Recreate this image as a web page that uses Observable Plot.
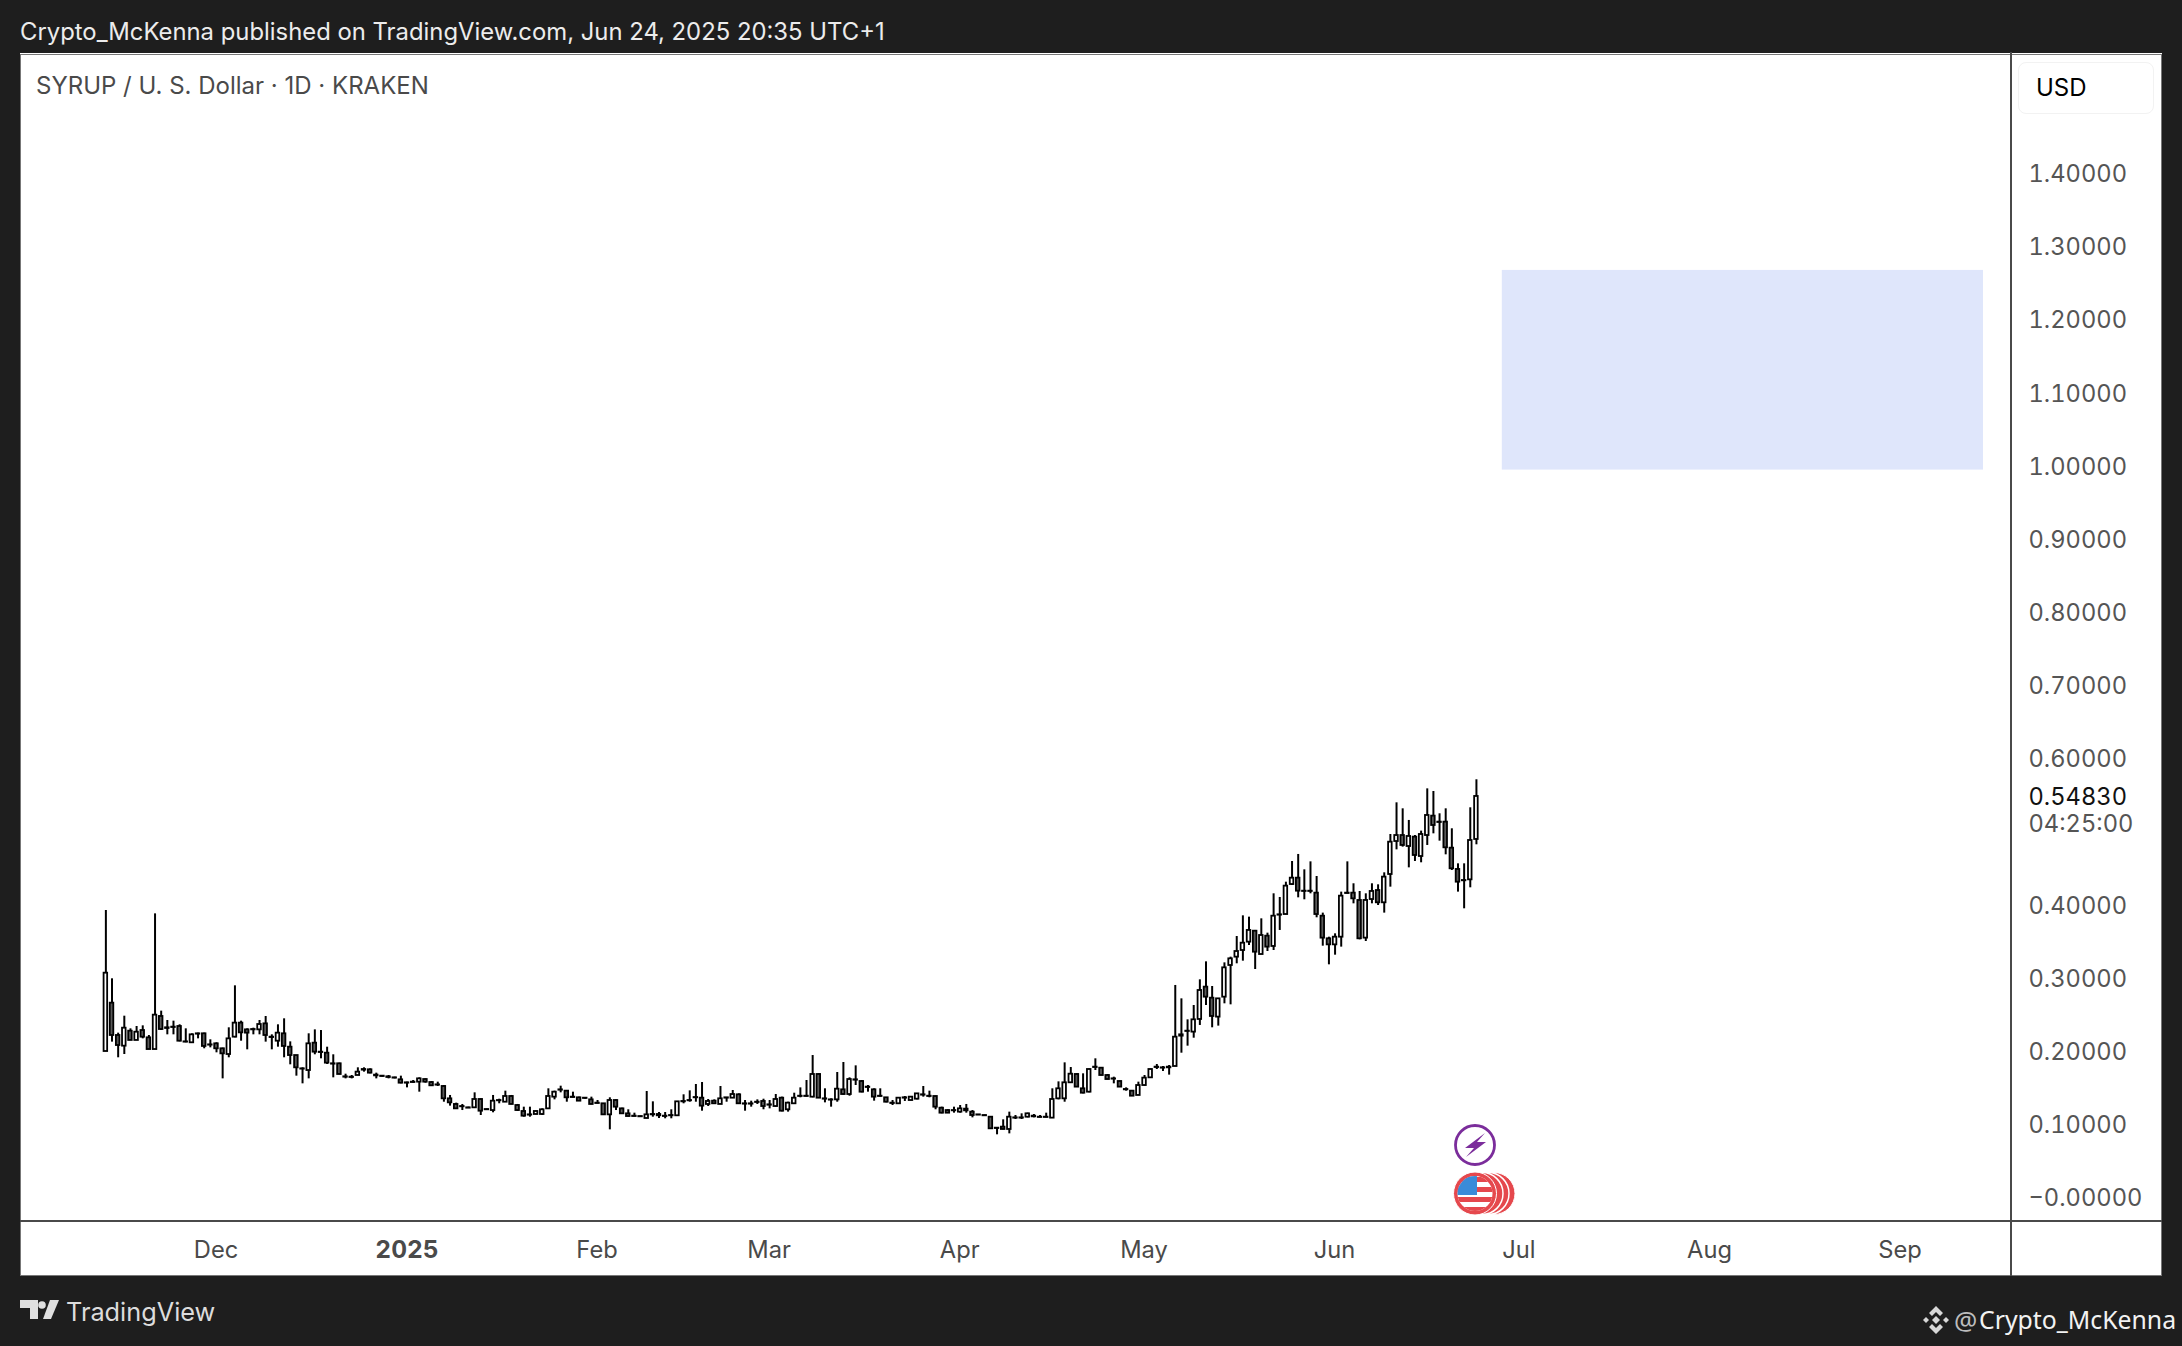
<!DOCTYPE html>
<html>
<head>
<meta charset="utf-8">
<script src="https://cdn.jsdelivr.net/npm/d3@7"></script>
<script src="https://cdn.jsdelivr.net/npm/@observablehq/plot@0.6"></script>
<style>
  html, body { margin: 0; padding: 0; background: #1e1e1e; width: 2182px; height: 1346px; overflow: hidden; font-family: Inter, sans-serif; }
  .abs { position: absolute; white-space: nowrap; line-height: 1; }
  #frame { position: absolute; left: 20px; top: 53px; width: 2142px; height: 1222px; background: #fff; }
  #frame svg { position: absolute; left: 0; top: 0; background: transparent; overflow: visible; }
</style>
</head>
<body>
<div class="abs" style="left:20px;top:19.5px;font-size:23.85px;color:#ececec;">Crypto_McKenna published on TradingView.com, Jun 24, 2025 20:35 UTC+1</div>
<div id="frame"></div>
<div class="abs" style="left:20px;top:54px;width:2140px;height:1220px;border:1px solid #777;pointer-events:none;"></div>
<div class="abs" style="left:2010px;top:52px;width:2px;height:1224px;background:#4a4a4a;"></div>
<div class="abs" style="left:20px;top:1220px;width:2142px;height:2px;background:#4a4a4a;"></div>
<div class="abs" style="left:2018px;top:62px;width:134px;height:50px;border:1px solid #f2f2f2;border-radius:8px;"></div>
<div class="abs" style="left:2036px;top:76px;font-size:24px;color:#000;">USD</div>
<div class="abs" style="left:36px;top:74px;font-size:24px;color:#4a4a4a;">SYRUP / U. S. Dollar · 1D · KRAKEN</div>
<svg class="abs" style="left:1440px;top:1110px;" width="80" height="110" viewBox="1440 1110 80 110">
  <circle cx="1475" cy="1145" r="19.5" fill="#fff" stroke="#7b2d9b" stroke-width="2.8"/>
  <path d="M1485 1133 L1465 1148 L1474 1148 L1466 1157 L1486 1142 L1477 1142 Z" fill="#7b2d9b"/>
  <circle cx="1494" cy="1193.5" r="21" fill="#e5484d" stroke="#fff" stroke-width="1"/>
  <circle cx="1488" cy="1193.5" r="21" fill="#e5484d" stroke="#fff" stroke-width="1.5"/>
  <circle cx="1482" cy="1193.5" r="21" fill="#e5484d" stroke="#fff" stroke-width="1.5"/>
  <clipPath id="flagclip"><circle cx="1475" cy="1193.5" r="17.5"/></clipPath>
  <circle cx="1475" cy="1193.5" r="21.5" fill="#e5484d" stroke="#fff" stroke-width="1"/>
  <g clip-path="url(#flagclip)">
    <rect x="1455" y="1174" width="40" height="40" fill="#fff"/>
    <rect x="1455" y="1177" width="40" height="5" fill="#e5484d"/>
    <rect x="1455" y="1187" width="40" height="5" fill="#e5484d"/>
    <rect x="1455" y="1197" width="40" height="5" fill="#e5484d"/>
    <rect x="1455" y="1207" width="40" height="5" fill="#e5484d"/>
    <rect x="1455" y="1174" width="22" height="21" fill="#3a8bd8"/>
  </g>
</svg>
<svg class="abs" style="left:20px;top:1298px;" width="42" height="24" viewBox="20 1298 42 24">
  <path d="M20 1300 H38 V1319 H30 V1308 H20 Z" fill="#e0e0e0"/>
  <circle cx="42" cy="1305" r="3.8" fill="#e0e0e0"/>
  <path d="M50 1300 H59 L51 1319 H43 Z" fill="#e0e0e0"/>
</svg>
<div class="abs" style="left:66px;top:1299px;font-size:25.3px;color:#dcdcdc;">TradingView</div>
<svg class="abs" style="left:1920px;top:1304px;" width="32" height="32" viewBox="1920 1304 32 32">
  <g fill="#d8d8d8">
    <path d="M1936 1306 L1943 1313 L1940 1316 L1936 1312 L1932 1316 L1929 1313 Z"/>
    <path d="M1936 1334 L1929 1327 L1932 1324 L1936 1328 L1940 1324 L1943 1327 Z"/>
    <path d="M1936 1316 L1940 1320 L1936 1324 L1932 1320 Z"/>
    <path d="M1926 1317 L1929 1320 L1926 1323 L1923 1320 Z"/>
    <path d="M1946 1317 L1949 1320 L1946 1323 L1943 1320 Z"/>
  </g>
</svg>
<div class="abs" style="left:1954px;top:1306.5px;font-size:26px;color:#bdbdbd;font-family:'Noto Sans';">@</div>
<div class="abs" style="left:1979px;top:1306.5px;font-size:24.8px;color:#f2f2f2;font-family:'Noto Sans';">Crypto_McKenna</div>
<script>
const firstDay = new Date(Date.UTC(2024, 10, 13));
const open = [.1996,.2657,.2215,.2069,.2274,.2147,.2283,.2183,.2023,.2475,
.2320,.2329,.2338,.2128,.2115,.2238,.2238,.2087,.2101,.2033,
.1955,.2192,.2384,.2292,.2297,.2292,.2374,.2192,.2137,.2238,
.2055,.1941,.1759,.1736,.2110,.1987,.1973,.1828,.1828,.1650,
.1645,.1668,.1750,.1746,.1673,.1659,.1650,.1636,.1609,.1568,
.1577,.1577,.1613,.1572,.1540,.1518,.1349,.1272,.1244,.1226,
.1226,.1340,.1203,.1189,.1326,.1303,.1381,.1258,.1176,.1130,
.1135,.1135,.1212,.1372,.1472,.1454,.1372,.1363,.1358,.1335,
.1290,.1281,.1130,.1326,.1212,.1144,.1112,.1107,.1080,.1135,
.1135,.1112,.1121,.1117,.1313,.1326,.1367,.1358,.1272,.1317,
.1272,.1363,.1358,.1404,.1281,.1281,.1303,.1313,.1267,.1244,
.1358,.1199,.1281,.1385,.1385,.1372,.1682,.1349,.1335,.1335,
.1472,.1408,.1609,.1586,.1509,.1472,.1385,.1363,.1290,.1281,
.1363,.1326,.1344,.1404,.1385,.1381,.1221,.1189,.1189,.1167,
.1208,.1167,.1130,.1121,.1098,.0948,.0962,.0930,.1089,.1089,
.1098,.1112,.1098,.1098,.1085,.1349,.1349,.1568,.1682,.1486,
.1440,.1782,.1768,.1668,.1622,.1586,.1477,.1454,.1395,.1531,
.1636,.1782,.1773,.1782,.1791,.2224,.2274,.2261,.2434,.2876,
.2725,.2466,.2739,.3172,.3286,.3377,.3491,.3641,.3322,.3573,
.3432,.3865,.3869,.4279,.4366,.4188,.4188,.4161,.3846,.3537,
.3454,.3559,.4161,.4161,.4061,.3546,.4074,.4197,.4029,.4416,
.4867,.4949,.4799,.4927,.4662,.4949,.5214,.5132,.5132,.4776,
.4485,.4334,.4343,.4895];
const high = [.3924,.2990,.2247,.2479,.2306,.2338,.2347,.2215,.3878,.2548,
.2420,.2411,.2361,.2306,.2238,.2247,.2247,.2156,.2115,.2042,
.2320,.2894,.2411,.2306,.2315,.2420,.2475,.2224,.2361,.2443,
.2128,.1941,.1773,.2238,.2292,.2283,.2055,.1951,.1837,.1686,
.1668,.1773,.1773,.1759,.1700,.1668,.1668,.1645,.1659,.1577,
.1600,.1636,.1622,.1586,.1577,.1531,.1395,.1290,.1272,.1235,
.1431,.1349,.1208,.1395,.1344,.1454,.1395,.1272,.1235,.1235,
.1185,.1212,.1486,.1454,.1522,.1463,.1440,.1372,.1367,.1372,
.1326,.1285,.1363,.1335,.1221,.1199,.1153,.1112,.1449,.1308,
.1162,.1162,.1199,.1313,.1404,.1458,.1545,.1572,.1340,.1335,
.1518,.1367,.1463,.1417,.1326,.1317,.1335,.1344,.1326,.1408,
.1372,.1303,.1426,.1499,.1600,.1941,.1691,.1486,.1349,.1709,
.1846,.1636,.1800,.1600,.1531,.1486,.1486,.1367,.1326,.1367,
.1381,.1381,.1422,.1518,.1454,.1385,.1235,.1199,.1235,.1258,
.1272,.1189,.1135,.1126,.1107,.0953,.1062,.1167,.1121,.1144,
.1153,.1135,.1121,.1153,.1486,.1581,.1841,.1777,.1691,.1691,
.1755,.1896,.1773,.1682,.1645,.1591,.1499,.1458,.1577,.1668,
.1755,.1818,.1791,.1805,.2899,.2716,.2429,.2625,.2976,.3222,
.2885,.2721,.3208,.3286,.3568,.3851,.3833,.3651,.3810,.3614,
.4152,.4102,.4311,.4594,.4690,.4480,.4589,.4389,.3888,.3559,
.3605,.4175,.4589,.4289,.4184,.4152,.4289,.4275,.4439,.4963,
.5396,.5314,.5155,.4949,.5009,.5587,.5551,.5246,.5314,.5041,
.4562,.4562,.5328,.5711];
const low = [.1996,.2124,.1910,.1955,.2147,.2147,.2169,.2023,.2023,.2283,
.2224,.2224,.2128,.2115,.2115,.2169,.2033,.2046,.1978,.1622,
.1910,.2183,.2137,.2019,.2224,.2224,.2124,.2019,.2055,.1910,
.1814,.1659,.1554,.1622,.1951,.1896,.1818,.1636,.1677,.1622,
.1622,.1668,.1714,.1691,.1622,.1645,.1622,.1622,.1554,.1499,
.1563,.1440,.1563,.1518,.1518,.1303,.1249,.1208,.1189,.1217,
.1226,.1121,.1194,.1158,.1281,.1303,.1267,.1176,.1098,.1098,
.1130,.1121,.1212,.1335,.1431,.1303,.1363,.1313,.1344,.1267,
.1281,.1126,.0925,.1189,.1139,.1103,.1103,.1098,.1080,.1098,
.1080,.1076,.1076,.1117,.1281,.1303,.1303,.1180,.1244,.1272,
.1272,.1303,.1358,.1281,.1180,.1235,.1272,.1199,.1212,.1235,
.1171,.1167,.1281,.1363,.1372,.1363,.1354,.1294,.1235,.1303,
.1399,.1385,.1531,.1431,.1440,.1317,.1372,.1294,.1258,.1276,
.1313,.1322,.1335,.1372,.1363,.1199,.1144,.1148,.1153,.1153,
.1153,.1089,.1121,.1112,.0934,.0857,.0925,.0870,.1066,.1066,
.1089,.1089,.1089,.1089,.1085,.1335,.1303,.1568,.1504,.1417,
.1431,.1736,.1663,.1609,.1554,.1504,.1454,.1381,.1395,.1522,
.1632,.1750,.1723,.1673,.1791,.1973,.2069,.2178,.2352,.2625,
.2320,.2343,.2648,.2634,.3195,.3231,.3445,.3117,.3322,.3363,
.3377,.3651,.3865,.4266,.4097,.4070,.4152,.3824,.3436,.3181,
.3313,.3423,.4152,.4015,.3523,.3500,.4015,.3992,.3888,.4243,
.4753,.4790,.4507,.4594,.4576,.4813,.4972,.4872,.4685,.4471,
.4175,.3947,.4234,.4822];
const close = [.3067,.2215,.2078,.2315,.2147,.2260,.2192,.2023,.2493,.2297,
.2311,.2324,.2137,.2124,.2224,.2233,.2065,.2083,.2033,.1964,
.2169,.2384,.2251,.2247,.2292,.2365,.2215,.2187,.2247,.2065,
.1941,.1773,.1755,.2101,.1987,.1982,.1837,.1823,.1682,.1645,
.1641,.1714,.1741,.1700,.1663,.1654,.1641,.1632,.1563,.1563,
.1572,.1622,.1577,.1527,.1536,.1349,.1294,.1212,.1240,.1221,
.1340,.1180,.1199,.1317,.1322,.1381,.1272,.1189,.1112,.1126,
.1176,.1199,.1381,.1440,.1467,.1363,.1367,.1317,.1354,.1272,
.1285,.1130,.1326,.1235,.1144,.1107,.1107,.1103,.1130,.1130,
.1117,.1107,.1117,.1308,.1308,.1322,.1363,.1249,.1313,.1281,
.1349,.1358,.1408,.1281,.1276,.1276,.1299,.1244,.1262,.1340,
.1180,.1290,.1358,.1381,.1381,.1682,.1358,.1344,.1331,.1481,
.1408,.1613,.1604,.1440,.1504,.1372,.1381,.1303,.1285,.1358,
.1358,.1372,.1417,.1399,.1381,.1235,.1153,.1153,.1185,.1212,
.1185,.1121,.1126,.1117,.0939,.0943,.0930,.1098,.1085,.1085,
.1144,.1103,.1094,.1094,.1340,.1486,.1568,.1686,.1509,.1426,
.1750,.1777,.1668,.1613,.1618,.1509,.1472,.1385,.1531,.1632,
.1750,.1777,.1768,.1773,.2192,.2206,.2270,.2429,.2830,.2739,
.2475,.2716,.3140,.3263,.3363,.3477,.3651,.3354,.3582,.3423,
.3846,.3860,.4257,.4366,.4188,.4184,.4184,.3869,.3546,.3454,
.3559,.4120,.4156,.4083,.3537,.4061,.4184,.4029,.4380,.4858,
.4949,.4813,.4936,.4676,.4963,.5223,.5086,.5127,.4781,.4494,
.4311,.4330,.4881,.5483];
const priceTicks = [0, .1, .2, .3, .4, .6, .7, .8, .9, 1, 1.1, 1.2, 1.3, 1.4];
const monthTicks = [[2024,11],[2025,1],[2025,2],[2025,3],[2025,4],[2025,5],[2025,6],[2025,7],[2025,8]].map(([y,m]) => new Date(Date.UTC(y,m,1)));
const yearTicks = [new Date(Date.UTC(2025,0,1))];
const lastPrice = [.5483];
const countdown = "04:25:00";
const zone = [{x1: new Date(Date.UTC(2025,5,28,5)), x2: new Date(Date.UTC(2025,8,14,12)), y1: .9945, y2: 1.2675}];

const candles = open.map((o, i) => {
  const date = d3.utcDay.offset(firstDay, i);
  return {date, left: new Date(+date - 0.29*864e5), right: new Date(+date + 0.29*864e5), open: o, high: high[i], low: low[i], close: close[i]};
});
const tickStyle = {fontSize: 23.7, fontFamily: "Inter, sans-serif"};
const chart = Plot.plot({
  width: 2142, height: 1222,
  marginLeft: 0, marginTop: 0, marginRight: 151, marginBottom: 54,
  style: {background: "transparent", overflow: "visible"},
  x: {type: "utc", domain: [new Date(Date.UTC(2024,11,1)), new Date(Date.UTC(2025,8,1))], range: [196, 1880], axis: null},
  y: {domain: [0, 1.4], range: [1144, 120], axis: null},
  marks: [
    Plot.rect(zone, {x1: "x1", x2: "x2", y1: "y1", y2: "y2", fill: "#dfe6fb"}),
    Plot.ruleX(candles, {x: "date", y1: "low", y2: "high", stroke: "#000", strokeWidth: 2}),
    Plot.rect(candles, {x1: "left", x2: "right", y1: "open", y2: "close",
      fill: d => d.close >= d.open ? "#ffffff" : "#5a5a5a", stroke: "#000", strokeWidth: 1.8}),
    Plot.axisX({ticks: monthTicks, anchor: "bottom", tickSize: 0, tickPadding: 19.5, dx: -0.5, label: null,
      tickFormat: d => d3.utcFormat("%b")(d), fill: "#4a4a4a", ...tickStyle}),
    Plot.axisX({ticks: yearTicks, anchor: "bottom", tickSize: 0, tickPadding: 19.5, label: null,
      tickFormat: d => d3.utcFormat("%Y")(d), fill: "#4a4a4a", fontWeight: 700, ...tickStyle, fontSize: 24.5}),
    Plot.axisY({ticks: priceTicks, anchor: "right", tickSize: 0, tickPadding: 17, dy: 1, label: null,
      tickFormat: d => d === 0 ? "−0.00000" : d.toFixed(5), fill: "#555", ...tickStyle}),
    Plot.axisY({ticks: lastPrice, anchor: "right", tickSize: 0, tickPadding: 17, dy: 0.5, label: null,
      tickFormat: d => d.toFixed(5), fill: "#111", ...tickStyle}),
    Plot.axisY({ticks: lastPrice, anchor: "right", tickSize: 0, tickPadding: 17, dy: 27.5, label: null,
      tickFormat: () => countdown, fill: "#555", ...tickStyle})
  ]
});
document.getElementById("frame").append(chart);
</script>
</body>
</html>
